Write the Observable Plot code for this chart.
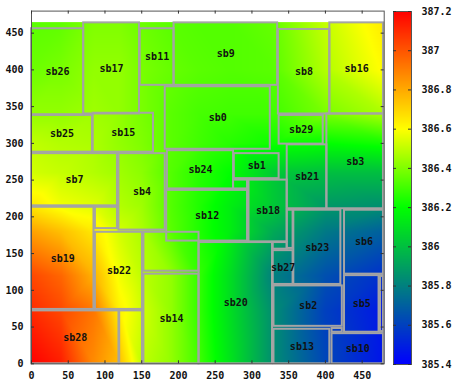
<!DOCTYPE html>
<html><head><meta charset="utf-8">
<script src="https://cdn.jsdelivr.net/npm/d3@7"></script>
<script src="https://cdn.jsdelivr.net/npm/@observablehq/plot@0.6"></script>
<style>
body{margin:0;background:#fff}
#c{position:relative;width:474px;height:387px}
#c svg{position:absolute;left:0;top:0}
</style></head><body><div id="c"></div>
<script>
// Rectangles (data units)
const names = ["sb0","sb1","sb2","sb3","sb4","sb5","sb6","sb7","sb8","sb9","sb10","sb11","sb12","sb13","sb14","sb15","sb16","sb17","sb18","sb19","sb20","sb21","sb22","sb23","sb24","sb25","sb26","sb27","sb28","sb29","","","","","","","",""];
const rx1 = [182,276,330,402,119,426,426,0,336,194,409,148,184,330,153,84,406,71,296,0,228,348,87,357,185,0,0,329,0,337,275,87,153,120,348,329,475,409];
const rx2 = [325,337,423,479,182,473,479,117,406,335,479,194,294,406,228,166,479,147,348,85,328,402,151,421,275,83,71,356,119,397,294,117,228,151,356,348,479,423];
const ry1 = [292,252,51,211,182,43,122,215,340,379,0,379,167,0,0,288,340,340,166,74,0,211,74,108,238,288,339,108,0,299,238,184,126,0,157,156,43,43];
const ry2 = [377,286,106,340,286,120,209,286,455,464,41,456,236,47,122,341,464,464,250,213,165,298,179,209,290,338,456,154,72,338,250,213,179,72,209,165,120,48];

// Colour field samples
const fieldX = [0,40,85,120,150,190,228,270,330,400,480];
const fieldY = [0,72,120,180,215,260,300,340,400,465];
const fieldV = [
  [387.20,387.13,386.87,386.75,386.50,386.43,386.30,386.12,385.84,385.62,385.46],
  [387.10,387.03,386.92,386.63,386.53,386.43,386.28,386.10,385.84,385.60,385.47],
  [387.03,386.96,386.78,386.58,386.50,386.43,386.28,386.10,385.80,385.65,385.55],
  [386.82,386.75,386.65,386.53,386.47,386.34,386.25,386.15,385.93,385.78,385.70],
  [386.65,386.58,386.55,386.48,386.45,386.33,386.25,386.15,386.03,385.88,385.85],
  [386.53,386.51,386.48,386.45,386.42,386.33,386.26,386.20,386.03,386.00,386.00],
  [386.50,386.48,386.47,386.43,386.40,386.34,386.30,386.26,386.22,386.20,386.23],
  [386.43,386.43,386.45,386.43,386.39,386.34,386.31,386.30,386.30,386.39,386.47],
  [386.37,386.39,386.43,386.43,386.39,386.36,386.34,386.33,386.34,386.48,386.61],
  [386.34,386.35,386.40,386.40,386.37,386.34,386.33,386.33,386.36,386.51,386.65]
];

const xTicks = [0,50,100,150,200,250,300,350,400,450];
const yTicks = [0,50,100,150,200,250,300,350,400,450];
const cbTicks = [385.4,385.6,385.8,386,386.2,386.4,386.6,386.8,387,387.2];

const boxes = names.map((name,i)=>({name, x1:rx1[i], x2:rx2[i], y1:ry1[i], y2:ry2[i]}));
const samples = fieldY.flatMap((y,j)=>fieldX.map((x,i)=>({x, y, v: fieldV[j][i]})));

const colorScale = {type:"linear", domain:[385.4,386.2,386.6,387.2], range:["#0000ff","#00ff00","#ffff00","#ff0000"], interpolate:"rgb", clamp:true};
const font = "bold 10px 'DejaVu Sans Mono', monospace";
const dark = "#333";

const main = Plot.plot({
  width:474, height:387,
  marginLeft:31, marginRight:90.3, marginTop:10.6, marginBottom:23.7,
  style:{font, background:"transparent", color:"#111"},
  x:{domain:[0,480], ticks:xTicks, tickSize:0, tickPadding:8, label:null},
  y:{domain:[0,480], ticks:yTicks, tickSize:0, tickPadding:8, label:null},
  color:colorScale,
  marks:[
    Plot.raster(samples,{x:"x", y:"y", fill:"v", interpolate:"barycentric", x1:0, x2:480, y1:0, y2:465}),
    Plot.rect(boxes,{x1:"x1", x2:"x2", y1:"y1", y2:"y2", stroke:"#a4a4a4", strokeWidth:2, fill:"none"}),
    Plot.text(boxes.filter(d=>d.name),{x:d=>(d.x1+d.x2)/2, y:d=>(d.y1+d.y2)/2, text:"name", fill:"#111", fontWeight:"bold"}),
    Plot.frame({stroke:"#555"}),
    Plot.ruleX(xTicks,{x:d=>d, y1:0, y2:0, insetTop:-3, stroke:dark}),
    Plot.ruleX(xTicks,{x:d=>d, y1:480, y2:480, insetBottom:-3, stroke:dark}),
    Plot.ruleY(yTicks,{y:d=>d, x1:0, x2:0, insetRight:-3, stroke:dark}),
    Plot.ruleY(yTicks,{y:d=>d, x1:480, x2:480, insetLeft:-3, stroke:dark})
  ]
});

const bar = Plot.plot({
  width:474, height:387,
  marginLeft:393, marginRight:63, marginTop:11, marginBottom:23,
  style:{font, background:"transparent", color:"#111"},
  x:{domain:[0,1], axis:null},
  y:{domain:[385.4,387.2], axis:"right", ticks:cbTicks, tickFormat:d=>String(+d.toFixed(1)), tickSize:0, tickPadding:10, label:null},
  color:colorScale,
  marks:[
    Plot.raster({fill:(x,y)=>y, x1:0, x2:1, y1:385.4, y2:387.2}),
    Plot.frame({stroke:"#555"}),
    Plot.ruleY(cbTicks,{y:d=>d, x1:0, x2:0, insetRight:-3, stroke:dark}),
    Plot.ruleY(cbTicks,{y:d=>d, x1:1, x2:1, insetLeft:-3, stroke:dark})
  ]
});

const c = document.getElementById("c");
c.appendChild(main);
c.appendChild(bar);
</script></body></html>
